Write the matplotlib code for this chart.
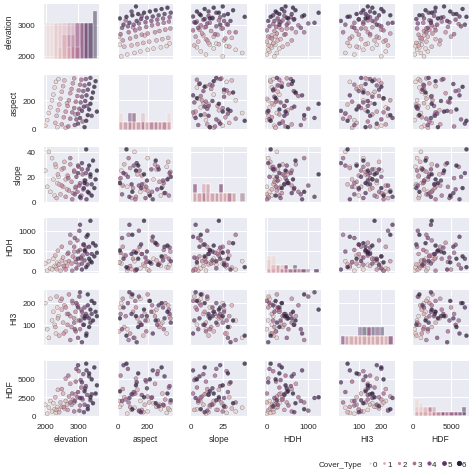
import pandas as pd
import seaborn as sns
from matplotlib import pyplot as plt
from matplotlib.lines import Line2D

# rows read roughly off the scatter clouds, per class
cover_type = [0] * 10 + [1] * 10 + [2] * 10 + [3] * 10 + [4] * 10 + [5] * 10 + [6] * 10
elevation = [1990, 2050, 2100, 2150, 2200, 2240, 2280, 2320, 2360, 2400,
             2300, 2340, 2380, 2420, 2460, 2500, 2540, 2580, 2620, 2660,
             2500, 2560, 2620, 2680, 2720, 2760, 2800, 2840, 2880, 2920,
             2700, 2760, 2820, 2880, 2930, 2980, 3020, 3060, 3100, 3140,
             2900, 2950, 3000, 3040, 3080, 3120, 3160, 3200, 3240, 3280,
             3000, 3060, 3120, 3180, 3220, 3260, 3300, 3340, 3380, 3420,
             3200, 3250, 3300, 3340, 3380, 3420, 3460, 3500, 3540, 3580]
aspect = [20, 60, 110, 150, 200, 240, 290, 330, 10, 350,
          40, 90, 130, 170, 210, 260, 300, 340, 5, 180,
          30, 80, 120, 160, 200, 250, 280, 320, 355, 100,
          15, 70, 115, 145, 190, 230, 270, 310, 345, 50,
          25, 65, 105, 140, 185, 225, 265, 305, 350, 160,
          35, 75, 125, 155, 195, 235, 275, 315, 358, 90,
          10, 55, 95, 135, 175, 215, 255, 295, 335, 120]
slope = [25, 12, 40, 8, 35, 18, 5, 28, 15, 20,
         30, 3, 22, 14, 6, 26, 12, 32, 18, 10,
         13, 27, 4, 21, 9, 30, 16, 7, 24, 11,
         19, 35, 2, 25, 12, 8, 28, 15, 5, 22,
         6, 20, 29, 13, 3, 26, 10, 17, 23, 14,
         23, 4, 31, 11, 17, 2, 26, 7, 20, 14,
         15, 42, 8, 29, 22, 5, 33, 11, 18, 25]
hdh = [180, 0, 240, 60, 30, 300, 120, 90, 200, 150,
       380, 40, 500, 160, 0, 260, 330, 80, 210, 120,
       600, 120, 30, 420, 240, 700, 180, 360, 480, 300,
       450, 900, 0, 600, 220, 760, 150, 520, 300, 380,
       820, 60, 480, 1000, 330, 180, 650, 260, 580, 420,
       300, 1150, 30, 660, 480, 850, 150, 600, 240, 420,
       510, 90, 900, 300, 1250, 210, 690, 360, 630, 450]
hi3 = [200, 80, 40, 220, 120, 160, 100, 60, 180, 140,
       90, 230, 130, 50, 210, 170, 110, 190, 70, 150,
       220, 60, 180, 100, 240, 140, 90, 200, 130, 160,
       150, 30, 210, 110, 70, 190, 120, 80, 170, 140,
       80, 200, 40, 230, 120, 160, 100, 180, 150, 140,
       180, 250, 20, 100, 140, 60, 190, 130, 110, 150,
       130, 50, 240, 90, 170, 210, 120, 200, 160, 140]
hdf = [1500, 300, 1100, 2000, 600, 1700, 900, 400, 1200, 800,
       2500, 800, 3500, 500, 1800, 1200, 3000, 1000, 2000, 1500,
       3600, 1200, 5000, 800, 2600, 4300, 1500, 2200, 1800, 2900,
       5400, 1800, 3000, 600, 4600, 2500, 6000, 1400, 3800, 2200,
       2000, 6300, 3200, 700, 4800, 2400, 5600, 1500, 4000, 2800,
       6800, 2400, 4500, 500, 3700, 6100, 1300, 5300, 2100, 2900,
       3300, 7000, 900, 5700, 2500, 4900, 1700, 6500, 3000, 4100]

df = pd.DataFrame({
    "elevation": elevation, "aspect": aspect, "slope": slope,
    "HDH": hdh, "HI3": hi3, "HDF": hdf, "Cover_Type": cover_type,
})

sns.set_theme(style="darkgrid")
plt.rcParams["font.family"] = ["Liberation Sans", "DejaVu Sans"]

g = sns.PairGrid(df, hue="Cover_Type", height=1.0, diag_sharey=False)
g.map_diag(sns.histplot, bins=12, alpha=0.45, linewidth=0.3, edgecolor="white")
g.map_offdiag(sns.scatterplot, s=16, alpha=0.75, edgecolor="0.2", linewidth=0.3)
for i, ax in enumerate(g.diag_axes):
    lo, hi = ax.get_ylim()
    ax.set_ylim(0, hi * (1.1 if i == 0 else 3))
g.fig.set_size_inches(6.58, 6.58)

palette = sns.cubehelix_palette(7)
handles = [Line2D([], [], linestyle="none")]
labels = ["Cover_Type"]
for i, c in enumerate(palette):
    handles.append(Line2D([], [], marker="o", linestyle="none", color=c,
                          markersize=1.2 + i * 0.5))
    labels.append(str(i))
g.fig.legend(handles, labels, loc="lower right", ncol=8, bbox_to_anchor=(1.0, -0.005),
             frameon=False, fontsize=8, handletextpad=0.0, columnspacing=0.5,
             handlelength=0.8)
for ax in g.axes.flat:
    ax.tick_params(labelsize=8, pad=1)
    ax.xaxis.label.set_size(8.5)
    ax.yaxis.label.set_size(8.5)
g.fig.subplots_adjust(left=0.09, right=0.99, top=0.99, bottom=0.12, wspace=0.3, hspace=0.3)

plt.savefig("out.png", dpi=72)
